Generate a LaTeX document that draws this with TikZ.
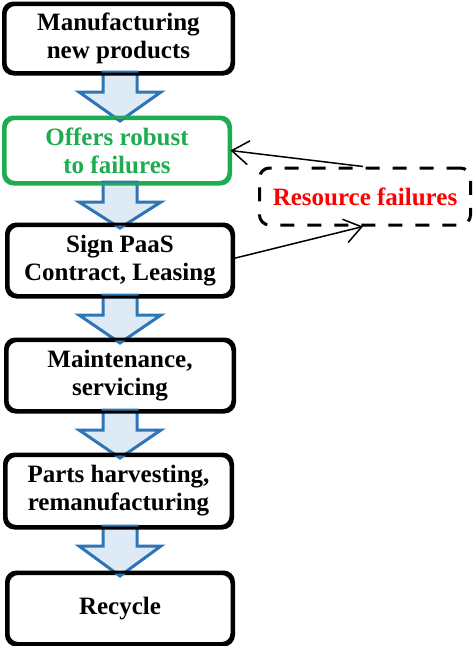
\documentclass[tikz,border=0pt]{standalone}
\usepackage{fontspec}
\setmainfont{Liberation Serif}
\usetikzlibrary{arrows.meta,calc}
\definecolor{boxgreen}{RGB}{30,172,80}
\definecolor{arrowblue}{RGB}{46,117,182}
\definecolor{arrowfill}{RGB}{222,235,247}
\definecolor{failred}{RGB}{255,0,0}
\tikzset{
  stagebox/.style={draw=black, line width=3pt, rounded corners=10pt, align=center,
    font=\fontsize{25}{28}\selectfont\bfseries, inner sep=0pt},
  greenbox/.style={stagebox, draw=boxgreen, text=boxgreen},
  failbox/.style={draw=black, line width=3pt, rounded corners=10pt, dash pattern=on 14pt off 13pt,
    font=\fontsize{25}{28}\selectfont\bfseries, text=failred, inner sep=0pt},
  barrow/.style={draw=arrowblue, fill=arrowfill, line width=3pt, line join=miter},
  thinarrow/.style={draw=black, line width=1.5pt, -{Straight Barb[length=17pt,width=24pt,line width=1.5pt]}}
}
\newcommand\blockarrow[2]{%
  \path let \p1=(#1.south), \p2=(#2.north) in
    coordinate (bt) at (120pt,\y1) coordinate (bb) at (120pt,\y2);
  \draw[barrow] let \p1=(bt), \p2=(bb) in
    (\x1-17pt,\y1+2pt) -- (\x1-17pt,\y1-18pt) -- (\x1-41pt,\y1-18pt) -- (\x1,\y2-4pt)
    -- (\x1+41pt,\y1-18pt) -- (\x1+17pt,\y1-18pt) -- (\x1+17pt,\y1+2pt) -- cycle;
}
\begin{document}
\begin{tikzpicture}[x=1pt,y=-1pt]
\useasboundingbox (0,0) rectangle (474,646);
% nodes
\node[stagebox, minimum width=227pt, minimum height=68pt] (b1) at (118.5,38.5) {Manufacturing\\new products};
\node[greenbox, minimum width=224pt, minimum height=64pt] (b2) at (117,150.5) {Offers robust\\to failures};
\node[stagebox, minimum width=224pt, minimum height=70pt] (b3) at (120,260.5) {Sign PaaS\\Contract, Leasing};
\node[stagebox, minimum width=226pt, minimum height=70pt] (b4) at (120,375.5) {Maintenance,\\servicing};
\node[stagebox, minimum width=225pt, minimum height=71pt] (b5) at (118.5,491) {Parts harvesting,\\remanufacturing};
\node[stagebox, minimum width=224pt, minimum height=70pt] (b6) at (120,608.5) {Recycle};
\node[failbox, minimum width=211pt, minimum height=57pt] (rf) at (365,196.5) {Resource failures};
% block arrows
\blockarrow{b1}{b2}
\blockarrow{b2}{b3}
\blockarrow{b3}{b4}
\blockarrow{b4}{b5}
\blockarrow{b5}{b6}
% redraw box outlines on top of arrow shafts
\draw[black, line width=3pt, rounded corners=10pt] (b1.south west) rectangle (b1.north east);
\draw[boxgreen, line width=3pt, rounded corners=10pt] (b2.south west) rectangle (b2.north east);
\draw[black, line width=3pt, rounded corners=10pt] (b3.south west) rectangle (b3.north east);
\draw[black, line width=3pt, rounded corners=10pt] (b4.south west) rectangle (b4.north east);
\draw[black, line width=3pt, rounded corners=10pt] (b5.south west) rectangle (b5.north east);
\draw[black, line width=3pt, rounded corners=10pt] (b6.south west) rectangle (b6.north east);
% thin connectors
\draw[thinarrow] ($(rf.north)+(-2,0)$) -- (b2.east);
\draw[thinarrow] ($(b3.east)+(0,-2)$) -- ($(rf.south)+(-2,0)$);
\end{tikzpicture}
\end{document}
